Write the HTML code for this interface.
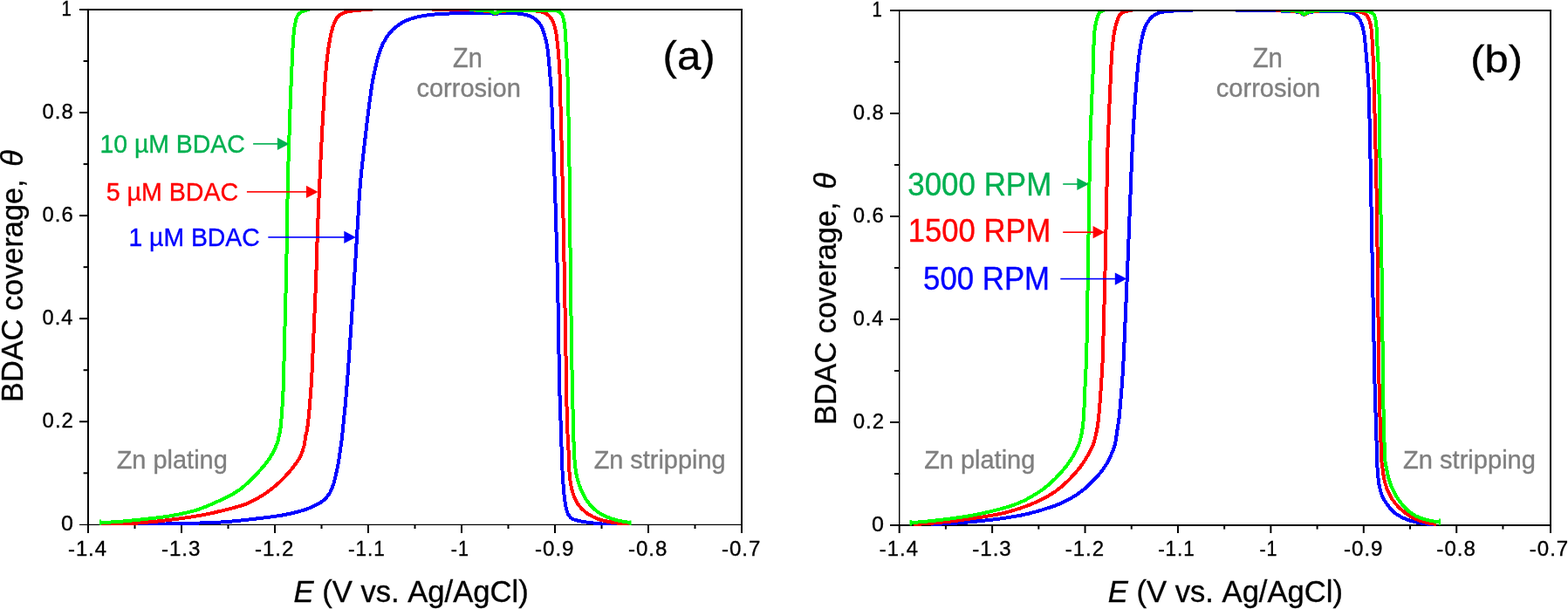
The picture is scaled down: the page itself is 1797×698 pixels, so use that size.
<!DOCTYPE html>
<html lang="en"><head><meta charset="utf-8"><title>BDAC coverage vs potential</title>
<style>
html,body{margin:0;padding:0;background:#fff;}
body{width:1797px;height:698px;overflow:hidden;position:relative;font-family:"Liberation Sans",Arial,Helvetica,sans-serif;}
svg{display:block;position:absolute;left:0;top:0;}
text{font-family:"Liberation Sans",Arial,Helvetica,sans-serif;font-kerning:none;white-space:pre;stroke-width:0.35px;}
.cv{fill:none;stroke-width:4;stroke-linejoin:round;stroke-linecap:butt;shape-rendering:crispEdges;}
.b{stroke:#0000ff}.r{stroke:#ff0000}.g{stroke:#00ff00}
</style></head><body>
<svg width="1797" height="698" viewBox="0 0 1797 698">
<rect x="0" y="0" width="1797" height="698" fill="#fff"/>
<defs>
<clipPath id="clipa"><rect x="102" y="12" width="747" height="590"/></clipPath>
<clipPath id="clipb"><rect x="1031.4" y="13" width="744.6" height="590"/></clipPath>
</defs>
<!-- panel (a) -->
<g fill="#000">
<rect x="100" y="10" width="751" height="2"/>
<rect x="91" y="600.8" width="760" height="1.2"/>
<rect x="100" y="10" width="2" height="592"/>
<rect x="849" y="10" width="2" height="601"/>
<rect x="100" y="602" width="2" height="9"/>
<rect x="153.5" y="602" width="2" height="4"/>
<rect x="207" y="602" width="2" height="9"/>
<rect x="260.5" y="602" width="2" height="4"/>
<rect x="314" y="602" width="2" height="9"/>
<rect x="367.5" y="602" width="2" height="4"/>
<rect x="421" y="602" width="2" height="9"/>
<rect x="474.5" y="602" width="2" height="4"/>
<rect x="528" y="602" width="2" height="9"/>
<rect x="581.5" y="602" width="2" height="4"/>
<rect x="635" y="602" width="2" height="9"/>
<rect x="688.5" y="602" width="2" height="4"/>
<rect x="742" y="602" width="2" height="9"/>
<rect x="795.5" y="602" width="2" height="4"/>
<rect x="849" y="602" width="2" height="9"/>
<rect x="91" y="10" width="9" height="2"/>
<rect x="95.6" y="69.03" width="4.4" height="2"/>
<rect x="91" y="128.06" width="9" height="2"/>
<rect x="95.6" y="187.09" width="4.4" height="2"/>
<rect x="91" y="246.12" width="9" height="2"/>
<rect x="95.6" y="305.15" width="4.4" height="2"/>
<rect x="91" y="364.18" width="9" height="2"/>
<rect x="95.6" y="423.21" width="4.4" height="2"/>
<rect x="91" y="482.24" width="9" height="2"/>
<rect x="95.6" y="541.27" width="4.4" height="2"/>
</g>
<g clip-path="url(#clipa)">
<path class="cv b" d="M141.0,601.0C149.2,600.9 175.8,600.7 190.0,600.5C204.2,600.3 214.7,600.0 226.0,599.6C237.3,599.2 246.8,599.0 257.6,598.2C268.4,597.4 280.1,596.1 291.0,594.8C301.9,593.5 313.7,592.2 323.0,590.6C332.3,589.0 340.1,587.1 346.7,585.1C353.3,583.1 358.2,580.9 362.4,578.8C366.6,576.7 369.3,574.9 371.9,572.5C374.5,570.1 376.5,567.5 378.2,564.6C379.9,561.7 380.9,558.9 382.1,555.2C383.3,551.5 384.4,546.5 385.3,542.5C386.2,538.5 386.8,536.0 387.6,531.5C388.4,527.0 389.2,521.0 390.0,515.8C390.8,510.5 391.5,505.1 392.1,500.0C392.7,494.9 393.0,491.6 393.6,485.2C394.2,478.8 395.2,470.7 396.0,461.5C396.8,452.3 397.4,444.4 398.5,430.0C399.6,415.6 401.1,393.3 402.3,375.0C403.6,356.7 404.8,338.3 406.0,320.0C407.2,301.7 408.2,283.5 409.4,265.2C410.6,246.9 411.4,228.3 413.0,210.0C414.6,191.7 416.8,173.5 418.9,155.2C421.0,136.9 424.0,112.7 425.9,100.0C427.8,87.3 428.7,85.0 430.0,78.8C431.3,72.6 432.4,67.8 433.9,63.0C435.4,58.2 436.8,54.2 438.9,50.0C441.0,45.8 443.6,41.3 446.5,37.8C449.4,34.3 452.9,31.5 456.0,29.2C459.1,26.9 461.4,25.4 465.0,23.8C468.6,22.2 473.3,20.6 477.9,19.5C482.4,18.4 487.5,17.7 492.3,17.1C497.1,16.5 502.2,16.2 506.8,15.9C511.4,15.6 515.2,15.5 520.0,15.3C524.8,15.1 530.7,15.0 535.7,14.9C540.7,14.8 546.0,14.8 550.0,14.8C554.0,14.8 557.6,14.9 560.0,15.0C562.4,15.1 563.2,15.3 564.5,15.5C565.8,15.7 566.6,16.3 567.6,16.3C568.6,16.3 569.4,15.7 570.7,15.5C572.0,15.3 573.0,15.1 575.5,15.0C578.0,14.9 582.9,14.9 586.0,15.0C589.1,15.1 591.3,15.3 594.0,15.6C596.7,15.9 600.1,16.5 602.4,17.0C604.7,17.5 606.1,17.9 608.0,18.8C609.9,19.7 611.9,20.7 613.9,22.4C615.9,24.1 618.1,26.2 619.7,28.9C621.3,31.6 622.3,34.6 623.5,38.5C624.7,42.4 626.0,46.9 626.9,52.0C627.8,57.1 628.3,63.3 628.9,69.3C629.5,75.3 630.0,82.2 630.5,88.2C631.0,94.2 630.9,84.7 631.8,105.0C632.7,125.3 634.6,174.2 635.8,210.0C637.0,245.8 638.1,283.3 639.0,320.0C639.9,356.7 640.2,401.2 640.9,430.0C641.5,458.8 642.4,478.0 642.9,493.0C643.4,508.0 643.5,512.3 643.8,520.0C644.1,527.7 644.2,532.8 644.5,539.3C644.8,545.8 645.4,553.3 645.8,558.7C646.2,564.1 646.5,567.5 647.0,571.6C647.5,575.7 648.2,580.1 649.0,583.2C649.8,586.3 650.4,588.4 651.6,590.3C652.8,592.2 654.1,593.7 656.1,594.8C658.1,595.9 661.0,596.5 663.8,597.1C666.6,597.7 669.6,598.1 672.8,598.6C676.0,599.1 679.2,599.5 683.1,599.9C687.0,600.3 691.7,600.8 696.0,601.0C700.3,601.2 706.8,601.2 708.9,601.3"/>
<path class="cv r" d="M115.8,601.0C121.5,600.8 139.5,600.5 150.0,600.0C160.5,599.5 166.1,599.1 178.8,597.7C191.5,596.3 212.9,593.6 226.0,591.4C239.1,589.2 248.0,587.0 257.6,584.6C267.2,582.2 275.7,580.3 283.6,577.0C291.5,573.7 298.8,569.2 305.0,565.0C311.2,560.8 315.8,556.9 321.0,552.0C326.2,547.1 332.2,540.2 336.0,535.5C339.8,530.8 341.9,527.7 344.0,523.6C346.1,519.5 347.5,514.9 348.5,511.0C349.5,507.1 349.6,503.0 350.2,500.0C350.8,497.0 351.3,496.8 351.9,493.0C352.5,489.2 353.1,483.9 353.8,477.3C354.5,470.7 355.2,461.5 355.8,453.6C356.4,445.7 356.7,443.1 357.4,430.0C358.1,416.9 359.0,393.3 359.8,375.0C360.6,356.7 361.5,338.3 362.2,320.0C362.9,301.7 363.2,283.3 363.9,265.0C364.6,246.7 365.5,228.3 366.3,210.0C367.1,191.7 367.9,173.3 368.9,155.0C369.9,136.7 371.3,112.7 372.1,100.0C372.9,87.3 373.0,86.3 373.7,78.8C374.4,71.3 375.4,62.0 376.4,55.2C377.4,48.4 378.4,42.8 379.6,37.8C380.8,32.8 382.1,28.5 383.5,25.2C384.9,21.9 386.4,19.9 388.2,18.1C390.0,16.3 391.9,15.4 394.5,14.5C397.1,13.6 400.1,13.0 404.0,12.4C407.9,11.8 413.7,11.5 418.2,11.2C422.7,10.8 425.7,10.5 431.0,10.3C436.3,10.1 440.2,10.1 450.0,10.0C459.8,9.9 481.7,9.8 490.0,10.0C498.3,10.2 492.0,10.8 500.0,11.0C508.0,11.2 529.7,11.1 538.0,11.3C546.3,11.5 546.2,11.9 550.0,12.2C553.8,12.5 558.5,12.7 561.0,13.0C563.5,13.3 563.9,13.9 565.0,14.3C566.1,14.7 566.8,15.6 567.7,15.6C568.6,15.6 569.5,14.7 570.5,14.3C571.5,13.9 571.6,13.3 574.0,13.0C576.4,12.7 580.7,12.4 585.0,12.2C589.3,12.0 595.8,12.0 600.0,12.0C604.2,12.0 607.6,12.1 610.3,12.2C613.0,12.3 613.9,12.5 616.0,12.8C618.1,13.1 620.7,13.3 622.9,14.2C625.1,15.1 627.4,16.3 629.2,18.1C631.0,19.9 632.6,22.3 633.9,25.2C635.2,28.1 636.1,31.6 636.9,35.5C637.7,39.4 638.2,43.9 638.7,48.5C639.2,53.1 639.7,56.6 640.2,63.0C640.7,69.4 641.3,79.7 641.6,86.7C641.9,93.7 641.6,84.5 642.1,105.0C642.6,125.5 643.9,174.2 644.7,210.0C645.5,245.8 646.2,283.3 646.9,320.0C647.6,356.7 648.4,402.5 648.9,430.0C649.4,457.5 649.5,470.2 650.0,485.2C650.5,500.2 651.3,510.9 651.7,520.0C652.1,529.1 652.0,534.2 652.4,540.0C652.8,545.8 653.3,550.2 654.1,554.8C654.9,559.4 656.0,563.8 657.4,567.7C658.8,571.6 660.4,574.9 662.5,578.0C664.6,581.1 667.5,584.0 670.3,586.4C673.1,588.8 676.1,590.6 679.3,592.2C682.5,593.8 685.7,595.0 689.6,596.1C693.5,597.2 698.2,598.1 702.5,598.9C706.8,599.6 712.2,600.2 715.4,600.6C718.6,601.0 720.7,601.1 721.8,601.2"/>
<path class="cv g" d="M115.4,599.2C118.7,599.0 128.4,598.5 135.0,598.0C141.6,597.5 145.3,597.2 155.2,596.1C165.1,595.0 182.7,593.4 194.5,591.4C206.3,589.4 215.5,587.7 226.0,584.3C236.5,580.9 249.4,574.9 257.6,571.0C265.8,567.1 269.6,564.9 275.0,561.0C280.4,557.1 285.1,552.4 290.0,547.5C294.9,542.6 300.7,536.3 304.5,531.5C308.3,526.7 310.8,522.6 313.0,518.5C315.2,514.4 316.9,510.1 318.0,507.0C319.1,503.9 319.1,502.3 319.6,500.0C320.1,497.7 320.7,496.8 321.2,493.0C321.7,489.2 322.2,483.9 322.7,477.3C323.2,470.7 323.9,461.5 324.3,453.6C324.7,445.7 324.7,443.1 325.1,430.0C325.5,416.9 326.0,393.3 326.5,375.0C327.0,356.7 327.5,338.3 327.9,320.0C328.3,301.7 328.7,283.3 329.0,265.0C329.3,246.7 329.4,228.3 329.8,210.0C330.2,191.7 331.0,171.7 331.5,155.0C332.0,138.3 332.5,122.7 333.0,110.0C333.5,97.3 334.0,87.9 334.4,78.8C334.8,69.7 335.1,62.6 335.5,55.2C335.9,47.9 336.4,40.2 337.0,34.7C337.6,29.2 338.5,25.2 339.4,22.1C340.3,19.0 341.2,17.3 342.5,15.8C343.8,14.3 345.4,13.7 347.3,12.9C349.2,12.1 351.5,11.7 353.6,11.2C355.7,10.7 343.9,10.2 360.0,10.0C376.1,9.8 421.7,10.0 450.0,10.0C478.3,10.0 515.0,9.8 530.0,10.0C545.0,10.2 537.2,10.7 540.0,11.0C542.8,11.3 544.2,11.5 547.0,11.7C549.8,11.8 554.5,11.7 557.0,11.9C559.5,12.1 560.7,12.4 562.0,12.8C563.3,13.2 564.0,13.7 565.0,14.1C566.0,14.5 566.8,15.4 567.7,15.4C568.6,15.4 569.5,14.5 570.5,14.1C571.5,13.7 572.2,13.2 573.5,12.8C574.8,12.4 573.6,12.1 578.0,11.9C582.4,11.7 593.0,11.7 600.0,11.7C607.0,11.7 614.3,11.7 620.0,11.7C625.7,11.7 630.8,11.7 634.0,11.9C637.2,12.1 637.9,12.3 639.5,13.0C641.1,13.7 642.5,14.3 643.6,15.9C644.7,17.5 645.4,19.6 646.0,22.5C646.6,25.4 647.1,28.8 647.5,33.0C647.9,37.2 648.1,41.7 648.5,48.0C648.9,54.3 649.3,61.4 649.7,70.9C650.1,80.4 650.5,81.8 651.0,105.0C651.5,128.2 652.3,174.2 652.8,210.0C653.3,245.8 653.4,283.3 653.9,320.0C654.4,356.7 655.1,401.2 655.6,430.0C656.1,458.8 656.7,478.0 657.1,493.0C657.5,508.0 657.7,512.9 658.1,520.0C658.5,527.1 658.7,530.5 659.3,535.5C659.9,540.5 660.7,545.2 661.9,549.7C663.1,554.2 664.6,558.4 666.4,562.5C668.2,566.6 670.4,570.8 672.8,574.2C675.2,577.7 677.8,580.6 680.6,583.2C683.4,585.8 686.4,587.8 689.6,589.6C692.8,591.4 696.7,592.9 699.9,594.1C703.1,595.3 706.1,596.0 708.9,596.7C711.7,597.4 714.4,597.7 716.7,598.1C719.0,598.5 721.5,598.8 722.5,598.9"/>
<rect x="114" y="595.5" width="2" height="6.5" fill="#00ff00"/>
<rect x="721.5" y="596.5" width="2" height="5.5" fill="#00ff00"/>
</g>
<rect x="100" y="10" width="751" height="2" fill="#000"/>
<rect x="290.1" y="164.1" width="28.8" height="1.6" fill="#00b050"/>
<polygon points="317.9,157.8 331.4,164.9 317.9,172" fill="#00b050"/>
<rect x="282.9" y="219.1" width="69.1" height="1.6" fill="#ff0000"/>
<polygon points="351,212.8 364.5,219.9 351,227" fill="#ff0000"/>
<rect x="307.3" y="271.1" width="88" height="1.6" fill="#0000ff"/>
<polygon points="394.3,264.8 407.8,271.9 394.3,279" fill="#0000ff"/>
<!-- panel (b) -->
<g fill="#000">
<rect x="1030" y="11" width="748" height="2"/>
<rect x="1030" y="601" width="748" height="2"/>
<rect x="1030" y="11" width="1.4" height="592"/>
<rect x="1776" y="11" width="2" height="600"/>
<rect x="1029.7" y="603" width="2" height="8"/>
<rect x="1082.91" y="603" width="2" height="3.6"/>
<rect x="1136.12" y="603" width="2" height="8"/>
<rect x="1189.33" y="603" width="2" height="3.6"/>
<rect x="1242.54" y="603" width="2" height="8"/>
<rect x="1295.75" y="603" width="2" height="3.6"/>
<rect x="1348.96" y="603" width="2" height="8"/>
<rect x="1402.17" y="603" width="2" height="3.6"/>
<rect x="1455.38" y="603" width="2" height="8"/>
<rect x="1508.59" y="603" width="2" height="3.6"/>
<rect x="1561.8" y="603" width="2" height="8"/>
<rect x="1615.01" y="603" width="2" height="3.6"/>
<rect x="1668.22" y="603" width="2" height="8"/>
<rect x="1721.43" y="603" width="2" height="3.6"/>
<rect x="1776" y="603" width="2" height="8"/>
<rect x="1020" y="11" width="10" height="2"/>
<rect x="1025" y="70" width="5" height="2"/>
<rect x="1020" y="129" width="10" height="2"/>
<rect x="1025" y="188" width="5" height="2"/>
<rect x="1020" y="247" width="10" height="2"/>
<rect x="1025" y="306" width="5" height="2"/>
<rect x="1020" y="365" width="10" height="2"/>
<rect x="1025" y="424" width="5" height="2"/>
<rect x="1020" y="483" width="10" height="2"/>
<rect x="1025" y="542" width="5" height="2"/>
<rect x="1020" y="601" width="10" height="2"/>
</g>
<g clip-path="url(#clipb)">
<path class="cv b" d="M1067.3,601.0C1071.1,600.8 1082.1,600.5 1090.0,600.0C1097.9,599.5 1105.2,598.9 1114.5,598.0C1123.8,597.1 1135.6,596.0 1146.1,594.5C1156.6,593.0 1167.1,591.5 1177.6,589.0C1188.1,586.5 1201.2,582.4 1209.1,579.6C1217.0,576.9 1219.5,575.4 1224.8,572.5C1230.0,569.6 1235.3,566.4 1240.6,562.2C1245.9,558.0 1251.9,552.1 1256.4,547.3C1260.9,542.4 1264.5,537.6 1267.4,533.1C1270.3,528.6 1272.0,524.4 1273.7,520.5C1275.4,516.6 1276.7,514.1 1277.8,509.8C1278.9,505.5 1279.4,499.7 1280.2,494.5C1281.0,489.3 1281.8,485.4 1282.6,478.8C1283.3,472.2 1284.0,463.1 1284.7,455.2C1285.4,447.3 1285.9,440.7 1286.5,431.5C1287.1,422.3 1287.1,423.6 1288.2,400.0C1289.3,376.4 1291.4,326.7 1292.9,290.0C1294.4,253.3 1295.9,208.8 1297.2,180.0C1298.5,151.2 1299.5,135.1 1300.7,117.3C1301.9,99.5 1303.5,82.6 1304.4,73.0C1305.3,63.4 1305.3,64.8 1306.0,59.9C1306.7,55.0 1307.7,48.5 1308.8,43.6C1309.9,38.7 1311.1,34.1 1312.6,30.5C1314.1,26.9 1316.0,24.2 1318.0,21.8C1320.0,19.4 1321.8,17.7 1324.5,16.3C1327.2,14.9 1329.9,14.1 1334.3,13.4C1338.7,12.7 1345.6,12.5 1350.7,12.2C1355.8,11.9 1359.9,11.8 1364.8,11.6C1369.7,11.4 1372.5,11.1 1380.0,11.0C1387.5,10.9 1403.3,10.9 1410.0,11.0C1416.7,11.1 1412.5,11.6 1420.0,11.8C1427.5,12.0 1446.7,11.9 1455.0,12.0C1463.3,12.1 1465.5,12.4 1470.0,12.6C1474.5,12.8 1478.8,12.9 1482.0,13.2C1485.2,13.5 1487.2,13.8 1489.0,14.2C1490.8,14.6 1491.5,15.3 1492.5,15.8C1493.5,16.3 1494.0,17.0 1494.8,17.0C1495.6,17.0 1496.2,16.3 1497.2,15.8C1498.2,15.3 1498.7,14.6 1500.5,14.2C1502.3,13.8 1504.8,13.4 1508.0,13.2C1511.2,13.0 1515.5,12.9 1520.0,12.8C1524.5,12.7 1531.2,12.6 1535.0,12.8C1538.8,13.0 1539.8,13.3 1542.5,13.8C1545.2,14.3 1548.8,14.8 1551.2,15.9C1553.6,17.0 1555.4,18.4 1557.0,20.3C1558.6,22.2 1559.6,24.9 1560.6,27.5C1561.6,30.1 1562.2,33.3 1562.8,36.2C1563.4,39.1 1563.5,38.9 1564.1,45.0C1564.7,51.1 1565.8,61.5 1566.6,72.7C1567.4,83.9 1568.2,87.5 1569.0,112.0C1569.8,136.6 1570.5,183.7 1571.2,220.0C1571.9,256.3 1572.6,294.2 1573.3,330.0C1574.0,365.8 1574.6,403.3 1575.4,435.0C1576.2,466.7 1577.5,502.6 1578.0,520.0C1578.5,537.4 1578.3,533.3 1578.7,539.3C1579.1,545.3 1579.8,551.4 1580.6,556.1C1581.4,560.8 1582.3,564.1 1583.8,567.7C1585.3,571.4 1587.3,574.8 1589.6,578.0C1591.9,581.2 1594.4,584.4 1597.4,587.0C1600.4,589.6 1603.8,591.7 1607.7,593.5C1611.6,595.3 1615.9,596.8 1620.6,598.0C1625.3,599.2 1631.7,600.0 1636.0,600.6C1640.3,601.2 1644.7,601.4 1646.4,601.5"/>
<path class="cv r" d="M1046.8,601.0C1050.7,600.8 1061.3,600.3 1070.0,599.5C1078.7,598.7 1086.1,598.1 1098.8,596.4C1111.5,594.6 1133.0,591.8 1146.1,589.0C1159.2,586.2 1168.4,583.0 1177.6,579.6C1186.8,576.2 1194.6,572.2 1201.2,568.5C1207.8,564.8 1211.8,562.0 1217.0,557.5C1222.2,553.0 1228.2,546.9 1232.7,541.8C1237.2,536.7 1240.7,531.7 1243.8,526.8C1246.9,521.9 1249.9,516.2 1251.6,512.6C1253.3,509.0 1253.2,508.5 1254.2,505.0C1255.2,501.5 1256.5,496.3 1257.4,491.4C1258.3,486.5 1258.8,481.6 1259.4,475.6C1260.0,469.6 1260.5,462.6 1261.0,455.2C1261.5,447.8 1262.1,440.7 1262.6,431.5C1263.1,422.3 1263.4,423.6 1264.1,400.0C1264.8,376.4 1266.2,326.7 1267.0,290.0C1267.8,253.3 1268.4,208.8 1269.2,180.0C1270.0,151.2 1270.9,135.0 1271.6,117.3C1272.3,99.6 1272.9,84.8 1273.5,74.0C1274.1,63.2 1274.4,58.6 1275.0,52.3C1275.6,45.9 1276.4,40.4 1277.2,35.9C1278.0,31.4 1278.9,28.1 1279.9,25.0C1280.9,21.9 1281.9,19.2 1283.2,17.4C1284.5,15.6 1285.3,14.9 1287.5,14.0C1289.7,13.1 1292.5,12.5 1296.2,12.0C1300.0,11.5 1292.7,11.0 1310.0,10.8C1327.3,10.6 1375.8,10.7 1400.0,10.8C1424.2,10.9 1444.2,11.0 1455.0,11.2C1465.8,11.4 1460.8,11.8 1465.0,12.0C1469.2,12.2 1476.2,12.3 1480.0,12.6C1483.8,12.8 1486.0,13.1 1488.0,13.5C1490.0,13.9 1490.9,14.5 1492.0,15.1C1493.1,15.7 1493.9,16.8 1494.8,16.8C1495.7,16.8 1496.5,15.7 1497.6,15.1C1498.7,14.5 1499.4,13.9 1501.5,13.5C1503.6,13.1 1506.1,12.8 1510.0,12.6C1513.9,12.4 1519.2,12.3 1525.0,12.2C1530.8,12.1 1540.2,12.1 1545.0,12.2C1549.8,12.3 1551.5,12.3 1554.0,12.6C1556.5,12.9 1558.0,13.3 1559.9,14.0C1561.9,14.7 1564.1,15.1 1565.7,16.6C1567.3,18.1 1568.3,20.3 1569.3,23.1C1570.3,25.9 1571.0,29.6 1571.5,33.3C1572.0,36.9 1572.1,38.4 1572.5,45.0C1572.9,51.6 1573.5,61.4 1573.9,72.7C1574.3,84.0 1574.5,88.5 1575.1,113.0C1575.7,137.6 1576.9,183.8 1577.6,220.0C1578.3,256.2 1578.6,294.2 1579.1,330.0C1579.6,365.8 1579.8,403.3 1580.4,435.0C1581.1,466.7 1582.3,503.0 1583.0,520.0C1583.7,537.0 1583.8,531.4 1584.5,536.8C1585.2,542.2 1585.7,547.3 1587.0,552.2C1588.3,557.1 1590.0,562.1 1592.2,566.4C1594.4,570.7 1596.9,574.5 1599.9,578.0C1602.9,581.5 1606.8,585.0 1610.3,587.7C1613.8,590.4 1616.7,592.3 1620.6,594.1C1624.5,595.9 1629.2,597.5 1633.5,598.6C1637.8,599.8 1644.2,600.6 1646.4,601.0"/>
<path class="cv g" d="M1043.6,599.2C1046.3,599.0 1053.4,598.4 1060.0,597.8C1066.6,597.1 1073.9,596.5 1083.0,595.3C1092.1,594.1 1104.0,592.6 1114.5,590.6C1125.0,588.6 1136.9,586.0 1146.1,583.5C1155.3,581.0 1161.8,579.1 1169.7,575.6C1177.6,572.1 1186.7,566.7 1193.3,562.2C1199.9,557.7 1204.4,553.4 1209.1,548.8C1213.8,544.2 1218.0,539.4 1221.7,534.7C1225.4,530.0 1228.8,524.6 1231.2,520.5C1233.6,516.4 1235.1,512.5 1236.2,509.8C1237.3,507.1 1237.3,506.6 1238.0,504.0C1238.7,501.4 1239.5,498.2 1240.1,494.5C1240.7,490.8 1241.2,487.1 1241.6,481.9C1242.0,476.6 1242.3,471.4 1242.7,463.0C1243.1,454.6 1243.5,442.0 1244.0,431.5C1244.5,421.0 1244.9,423.6 1245.4,400.0C1245.9,376.4 1246.6,326.7 1247.2,290.0C1247.8,253.3 1248.3,208.8 1249.0,180.0C1249.7,151.2 1250.4,135.3 1251.1,117.3C1251.8,99.3 1252.7,83.4 1253.1,72.0C1253.5,60.6 1253.3,55.5 1253.6,49.0C1253.9,42.5 1254.2,37.2 1254.8,32.7C1255.4,28.2 1256.2,24.7 1257.0,21.8C1257.8,18.9 1258.6,16.7 1259.7,15.2C1260.8,13.7 1262.2,13.3 1263.6,12.6C1265.0,11.9 1263.6,11.3 1268.0,11.0C1272.4,10.7 1268.0,10.6 1290.0,10.5C1312.0,10.4 1371.3,10.4 1400.0,10.5C1428.7,10.6 1450.3,10.8 1462.0,11.0C1473.7,11.2 1466.7,11.6 1470.0,11.8C1473.3,12.0 1479.0,12.1 1482.0,12.3C1485.0,12.5 1486.3,12.8 1488.0,13.2C1489.7,13.6 1490.9,14.3 1492.0,14.9C1493.1,15.5 1493.9,16.6 1494.8,16.6C1495.7,16.6 1496.5,15.5 1497.6,14.9C1498.7,14.3 1499.8,13.6 1501.5,13.2C1503.2,12.8 1504.9,12.5 1508.0,12.3C1511.1,12.1 1514.7,12.1 1520.0,12.0C1525.3,11.9 1533.0,12.0 1540.0,12.0C1547.0,12.0 1557.0,11.9 1562.0,12.2C1567.0,12.5 1567.9,12.9 1570.0,13.6C1572.1,14.3 1573.3,15.0 1574.4,16.6C1575.5,18.2 1576.0,20.3 1576.5,23.1C1577.0,25.9 1577.4,29.1 1577.7,33.3C1578.0,37.4 1577.9,41.4 1578.2,48.0C1578.5,54.6 1579.2,61.9 1579.6,72.7C1580.0,83.5 1580.2,88.5 1580.6,113.0C1581.0,137.6 1581.5,183.8 1582.1,220.0C1582.6,256.2 1583.4,294.2 1583.9,330.0C1584.4,365.8 1584.4,403.3 1584.9,435.0C1585.4,466.7 1586.3,503.0 1587.0,520.0C1587.7,537.0 1588.1,531.6 1589.0,536.8C1589.9,541.9 1590.8,546.4 1592.2,550.9C1593.6,555.4 1595.5,559.9 1597.4,563.8C1599.3,567.7 1601.2,570.8 1603.8,574.2C1606.4,577.7 1609.6,581.6 1612.8,584.5C1616.0,587.4 1619.6,589.8 1623.1,591.6C1626.5,593.4 1630.0,594.4 1633.5,595.4C1637.0,596.4 1641.1,597.1 1643.8,597.6C1646.5,598.1 1648.6,598.3 1649.6,598.4"/>
<rect x="1042.5" y="596" width="2.5" height="6.5" fill="#00ff00"/>
<rect x="1649" y="594.5" width="2" height="7.5" fill="#00ff00"/>
</g>
<rect x="1030" y="11" width="748" height="2" fill="#000"/>
<rect x="1218.2" y="210.2" width="17.2" height="1.6" fill="#00b050"/>
<polygon points="1234.4,203.9 1247.9,211 1234.4,218.1" fill="#00b050"/>
<rect x="1218.2" y="265.4" width="35.4" height="1.6" fill="#ff0000"/>
<polygon points="1252.6,259.1 1266.1,266.2 1252.6,273.3" fill="#ff0000"/>
<rect x="1215.3" y="318.8" width="63.5" height="1.6" fill="#0000ff"/>
<polygon points="1277.8,312.5 1291.3,319.6 1277.8,326.7" fill="#0000ff"/>
<!-- text -->
<text transform="translate(26.1,461) rotate(-90) scale(0.9950,1.0000)" font-size="34.5" stroke="#000">BDAC coverage, <tspan font-style="italic" dx="5.2">θ</tspan></text>
<text transform="translate(957.8,487.1) rotate(-90) scale(0.9950,1.0000)" font-size="34.5" stroke="#000">BDAC coverage, <tspan font-style="italic" dx="5.2">θ</tspan></text>
<text transform="translate(336.41,690.2) scale(1.0038,1.0200)" font-size="34.5" stroke="#000"><tspan font-style="italic">E</tspan> (V vs. Ag/AgCl)</text>
<text transform="translate(1269.81,690.2) scale(1.0032,1.0200)" font-size="34.5" stroke="#000"><tspan font-style="italic">E</tspan> (V vs. Ag/AgCl)</text>
<text transform="translate(759.54,80.4) scale(1.0516,0.9825)" font-size="46.7" stroke="#000">(a)</text>
<text transform="translate(1685.36,83.3) scale(1.0446,0.9651)" font-size="46.7" stroke="#000">(b)</text>
<text transform="translate(519.04,76.5) scale(0.9859,1.0400)" font-size="29.3" fill="#7f7f7f" stroke="#7f7f7f">Zn</text>
<text transform="translate(1435.7,76.5) scale(1.0020,1.0400)" font-size="29.3" fill="#7f7f7f" stroke="#7f7f7f">Zn</text>
<text transform="translate(477.44,110.7) scale(0.9914,1.0000)" font-size="29.3" fill="#7f7f7f" stroke="#7f7f7f">corrosion</text>
<text transform="translate(1393.84,110.7) scale(0.9914,1.0000)" font-size="29.3" fill="#7f7f7f" stroke="#7f7f7f">corrosion</text>
<text transform="translate(133.7,537.4) scale(0.9878,1.0000)" font-size="29.3" fill="#7f7f7f" stroke="#7f7f7f">Zn plating</text>
<text transform="translate(1059.2,537.4) scale(0.9878,1.0000)" font-size="29.3" fill="#7f7f7f" stroke="#7f7f7f">Zn plating</text>
<text transform="translate(680.66,537.3) scale(0.9858,1.0000)" font-size="29.3" fill="#7f7f7f" stroke="#7f7f7f">Zn stripping</text>
<text transform="translate(1608.1,537.3) scale(0.9923,1.0000)" font-size="29.3" fill="#7f7f7f" stroke="#7f7f7f">Zn stripping</text>
<text transform="translate(114.43,174.7) scale(0.9967,1.0400)" font-size="28.5" fill="#00b050" stroke="#00b050">10 µM BDAC</text>
<text transform="translate(121.64,229.6) scale(1.0038,1.0400)" font-size="28.5" fill="#ff0000" stroke="#ff0000">5 µM BDAC</text>
<text transform="translate(147.41,281.7) scale(0.9953,1.0400)" font-size="28.5" fill="#0000ff" stroke="#0000ff">1 µM BDAC</text>
<text transform="translate(1040.28,223.6) scale(1.0062,1.0400)" font-size="34.7" fill="#00b050" stroke="#00b050">3000 RPM</text>
<text transform="translate(1040.82,277) scale(0.9978,1.0400)" font-size="34.7" fill="#ff0000" stroke="#ff0000">1500 RPM</text>
<text transform="translate(1058.05,331.9) scale(1.0033,1.0400)" font-size="34.7" fill="#0000ff" stroke="#0000ff">500 RPM</text>
<text transform="translate(77.96,637.4) scale(0.9927,1.0300)" font-size="24" stroke="#000" letter-spacing="1">-1.4</text>
<text transform="translate(184.95,637.4) scale(1.0037,1.0300)" font-size="24" stroke="#000" letter-spacing="1">-1.3</text>
<text transform="translate(291.95,637.4) scale(1.0026,1.0300)" font-size="24" stroke="#000" letter-spacing="1">-1.2</text>
<text transform="translate(399,637.4) scale(0.9413,1.0300)" font-size="24" stroke="#000" letter-spacing="1">-1.1</text>
<text transform="translate(516.8,637.4) scale(0.8995,1.0300)" font-size="24" stroke="#000" letter-spacing="1">-1</text>
<text transform="translate(612.95,637.4) scale(1.0055,1.0300)" font-size="24" stroke="#000" letter-spacing="1">-0.9</text>
<text transform="translate(719.95,637.4) scale(1.0027,1.0300)" font-size="24" stroke="#000" letter-spacing="1">-0.8</text>
<text transform="translate(826.95,637.4) scale(1.0026,1.0300)" font-size="24" stroke="#000" letter-spacing="1">-0.7</text>
<text transform="translate(1007.86,637.4) scale(0.9927,1.0300)" font-size="24" stroke="#000" letter-spacing="1">-1.4</text>
<text transform="translate(1114.27,637.4) scale(1.0037,1.0300)" font-size="24" stroke="#000" letter-spacing="1">-1.3</text>
<text transform="translate(1220.69,637.4) scale(1.0026,1.0300)" font-size="24" stroke="#000" letter-spacing="1">-1.2</text>
<text transform="translate(1327.16,637.4) scale(0.9413,1.0300)" font-size="24" stroke="#000" letter-spacing="1">-1.1</text>
<text transform="translate(1443.48,637.4) scale(0.8995,1.0300)" font-size="24" stroke="#000" letter-spacing="1">-1</text>
<text transform="translate(1539.95,637.4) scale(1.0055,1.0300)" font-size="24" stroke="#000" letter-spacing="1">-0.9</text>
<text transform="translate(1646.37,637.4) scale(1.0027,1.0300)" font-size="24" stroke="#000" letter-spacing="1">-0.8</text>
<text transform="translate(1752.79,637.4) scale(1.0026,1.0300)" font-size="24" stroke="#000" letter-spacing="1">-0.7</text>
<text transform="translate(70.5,17.9) scale(0.8500,1.0300)" font-size="24" stroke="#000" letter-spacing="1">1</text>
<text transform="translate(48.6,135.96) scale(0.9931,1.0300)" font-size="24" stroke="#000" letter-spacing="1">0.8</text>
<text transform="translate(48.6,254.02) scale(0.9932,1.0300)" font-size="24" stroke="#000" letter-spacing="1">0.6</text>
<text transform="translate(48.6,372.08) scale(0.9825,1.0300)" font-size="24" stroke="#000" letter-spacing="1">0.4</text>
<text transform="translate(48.6,490.14) scale(1.0006,1.0300)" font-size="24" stroke="#000" letter-spacing="1">0.2</text>
<text transform="translate(69.98,608.2) scale(1.0451,1.0300)" font-size="24" stroke="#000" letter-spacing="1">0</text>
<text transform="translate(999.6,18.9) scale(0.8500,1.0300)" font-size="24" stroke="#000" letter-spacing="1">1</text>
<text transform="translate(977.7,136.9) scale(0.9931,1.0300)" font-size="24" stroke="#000" letter-spacing="1">0.8</text>
<text transform="translate(977.7,254.9) scale(0.9932,1.0300)" font-size="24" stroke="#000" letter-spacing="1">0.6</text>
<text transform="translate(977.7,372.9) scale(0.9825,1.0300)" font-size="24" stroke="#000" letter-spacing="1">0.4</text>
<text transform="translate(977.7,490.9) scale(1.0006,1.0300)" font-size="24" stroke="#000" letter-spacing="1">0.2</text>
<text transform="translate(999.08,608.9) scale(1.0451,1.0300)" font-size="24" stroke="#000" letter-spacing="1">0</text>
</svg></body></html>
